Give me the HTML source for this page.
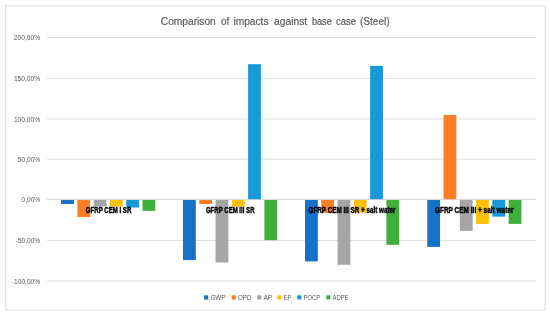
<!DOCTYPE html>
<html lang="en">
<head>
<meta charset="utf-8">
<title>Comparison of impacts against base case (Steel)</title>
<style>
html,body{margin:0;padding:0;background:#fff;}
body{width:550px;height:316px;overflow:hidden;}
svg{display:block;}
text{font-family:"Liberation Sans",sans-serif;}
.ax{font-size:7px;fill:#595959;}
.lg{font-size:6.5px;fill:#595959;}
.cat{font-size:8.6px;font-weight:bold;fill:#000;stroke:#000;stroke-width:0.45px;}
.ttl{font-size:11px;fill:#595959;stroke:#595959;stroke-width:0.2px;}
</style>
</head>
<body>
<svg width="550" height="316" viewBox="0 0 550 316">
<defs><filter id="soft" x="0" y="0" width="550" height="316" filterUnits="userSpaceOnUse" color-interpolation-filters="sRGB"><feGaussianBlur stdDeviation="0.3"/></filter></defs>
<rect x="0" y="0" width="550" height="316" fill="#ffffff"/>
<!-- chart frame -->
<rect x="5.6" y="5.9" width="539.6" height="304.1" fill="#ffffff" stroke="#e3e3e3" stroke-width="1.3"/>
<!-- horizontal gridlines -->
<line x1="47.1" y1="37.55" x2="536.0" y2="37.55" stroke="#d8d8d8" stroke-width="0.85"/>
<line x1="47.1" y1="78.40" x2="536.0" y2="78.40" stroke="#d8d8d8" stroke-width="0.85"/>
<line x1="47.1" y1="118.90" x2="536.0" y2="118.90" stroke="#d8d8d8" stroke-width="0.85"/>
<line x1="47.1" y1="159.15" x2="536.0" y2="159.15" stroke="#d8d8d8" stroke-width="0.85"/>
<line x1="47.1" y1="199.50" x2="536.0" y2="199.50" stroke="#d8d8d8" stroke-width="0.85"/>
<line x1="47.1" y1="240.45" x2="536.0" y2="240.45" stroke="#d8d8d8" stroke-width="0.85"/>
<line x1="47.1" y1="280.90" x2="536.0" y2="280.90" stroke="#d8d8d8" stroke-width="0.85"/>
<!-- bars -->
<g filter="url(#soft)">
<rect x="61.10" y="200.00" width="12.8" height="4.00" fill="#1672c9"/>
<rect x="77.38" y="200.00" width="12.8" height="17.05" fill="#ff7e25"/>
<rect x="93.66" y="200.00" width="12.8" height="6.50" fill="#a5a5a5"/>
<rect x="109.94" y="200.00" width="12.8" height="6.50" fill="#ffc10b"/>
<rect x="126.22" y="200.00" width="12.8" height="7.50" fill="#199ad8"/>
<rect x="142.50" y="200.00" width="12.8" height="10.85" fill="#41ad3a"/>
<rect x="183.00" y="200.00" width="12.8" height="60.05" fill="#1672c9"/>
<rect x="199.28" y="200.00" width="12.8" height="4.00" fill="#ff7e25"/>
<rect x="215.56" y="200.00" width="12.8" height="62.50" fill="#a5a5a5"/>
<rect x="231.84" y="200.00" width="12.8" height="6.60" fill="#ffc10b"/>
<rect x="248.12" y="64.20" width="12.8" height="135.80" fill="#199ad8"/>
<rect x="264.40" y="200.00" width="12.8" height="40.20" fill="#41ad3a"/>
<rect x="305.00" y="200.00" width="12.8" height="61.40" fill="#1672c9"/>
<rect x="321.28" y="200.00" width="12.8" height="12.90" fill="#ff7e25"/>
<rect x="337.56" y="200.00" width="12.8" height="64.80" fill="#a5a5a5"/>
<rect x="353.84" y="200.00" width="12.8" height="12.70" fill="#ffc10b"/>
<rect x="370.12" y="65.90" width="12.8" height="134.10" fill="#199ad8"/>
<rect x="386.40" y="200.00" width="12.8" height="44.80" fill="#41ad3a"/>
<rect x="427.25" y="200.00" width="12.8" height="46.90" fill="#1672c9"/>
<rect x="443.53" y="114.90" width="12.8" height="85.10" fill="#ff7e25"/>
<rect x="459.81" y="200.00" width="12.8" height="30.85" fill="#a5a5a5"/>
<rect x="476.09" y="200.00" width="12.8" height="23.95" fill="#ffc10b"/>
<rect x="492.37" y="200.00" width="12.8" height="16.65" fill="#199ad8"/>
<rect x="508.65" y="200.00" width="12.8" height="23.90" fill="#41ad3a"/>
</g>
<!-- category axis line on top of bars -->
<line x1="47.1" y1="199.50" x2="536.0" y2="199.50" stroke="#d8d8d8" stroke-width="0.85"/>
<g filter="url(#soft)">
<!-- value axis labels -->
<text class="ax" x="40.2" y="40.25" text-anchor="end" textLength="26.4" lengthAdjust="spacingAndGlyphs">200,00%</text>
<text class="ax" x="40.2" y="81.10" text-anchor="end" textLength="26.3" lengthAdjust="spacingAndGlyphs">150,00%</text>
<text class="ax" x="40.2" y="121.60" text-anchor="end" textLength="26.3" lengthAdjust="spacingAndGlyphs">100,00%</text>
<text class="ax" x="40.2" y="161.85" text-anchor="end" textLength="22.4" lengthAdjust="spacingAndGlyphs">50,00%</text>
<text class="ax" x="40.2" y="202.20" text-anchor="end" textLength="18.6" lengthAdjust="spacingAndGlyphs">0,00%</text>
<text class="ax" x="40.2" y="243.15" text-anchor="end" textLength="24.5" lengthAdjust="spacingAndGlyphs">-50,00%</text>
<text class="ax" x="40.2" y="283.60" text-anchor="end" textLength="28.4" lengthAdjust="spacingAndGlyphs">-100,00%</text>
<!-- category labels -->
<text class="cat" x="108.55" y="212.7" text-anchor="middle" textLength="45.5" lengthAdjust="spacingAndGlyphs">GFRP CEM I SR</text>
<text class="cat" x="230.20" y="212.7" text-anchor="middle" textLength="48.6" lengthAdjust="spacingAndGlyphs">GFRP CEM III SR</text>
<text class="cat" x="352.00" y="212.7" text-anchor="middle" textLength="87.0" lengthAdjust="spacingAndGlyphs">GFRP CEM III SR + salt water</text>
<text class="cat" x="474.20" y="212.7" text-anchor="middle" textLength="78.6" lengthAdjust="spacingAndGlyphs">GFRP CEM III + salt water</text>
<!-- title -->
<text class="ttl" y="24.5"><tspan x="160.8" textLength="55.0" lengthAdjust="spacingAndGlyphs">Comparison</tspan> <tspan x="221.0" textLength="8.1" lengthAdjust="spacingAndGlyphs">of</tspan> <tspan x="233.5" textLength="35.0" lengthAdjust="spacingAndGlyphs">impacts</tspan> <tspan x="274.1" textLength="33.1" lengthAdjust="spacingAndGlyphs">against</tspan> <tspan x="312.0" textLength="19.7" lengthAdjust="spacingAndGlyphs">base</tspan> <tspan x="336.1" textLength="20.0" lengthAdjust="spacingAndGlyphs">case</tspan> <tspan x="359.9" textLength="29.7" lengthAdjust="spacingAndGlyphs">(Steel)</tspan></text>
<!-- legend -->
<rect x="204.1" y="295.3" width="4.1" height="4.2" fill="#1672c9"/>
<text class="lg" x="210.4" y="299.6" textLength="15.2" lengthAdjust="spacingAndGlyphs">GWP</text>
<rect x="231.7" y="295.3" width="4.1" height="4.2" fill="#ff7e25"/>
<text class="lg" x="238.0" y="299.6" textLength="13.5" lengthAdjust="spacingAndGlyphs">OPD</text>
<rect x="257.2" y="295.3" width="4.1" height="4.2" fill="#a5a5a5"/>
<text class="lg" x="263.5" y="299.6" textLength="8.7" lengthAdjust="spacingAndGlyphs">AP</text>
<rect x="277.3" y="295.3" width="4.1" height="4.2" fill="#ffc10b"/>
<text class="lg" x="283.8" y="299.6" textLength="7.3" lengthAdjust="spacingAndGlyphs">EP</text>
<rect x="297.3" y="295.3" width="4.1" height="4.2" fill="#199ad8"/>
<text class="lg" x="303.7" y="299.6" textLength="16.5" lengthAdjust="spacingAndGlyphs">POCP</text>
<rect x="326.3" y="295.3" width="4.1" height="4.2" fill="#41ad3a"/>
<text class="lg" x="332.5" y="299.6" textLength="16.0" lengthAdjust="spacingAndGlyphs">ADPE</text>
</g>
</svg>
</body>
</html>
